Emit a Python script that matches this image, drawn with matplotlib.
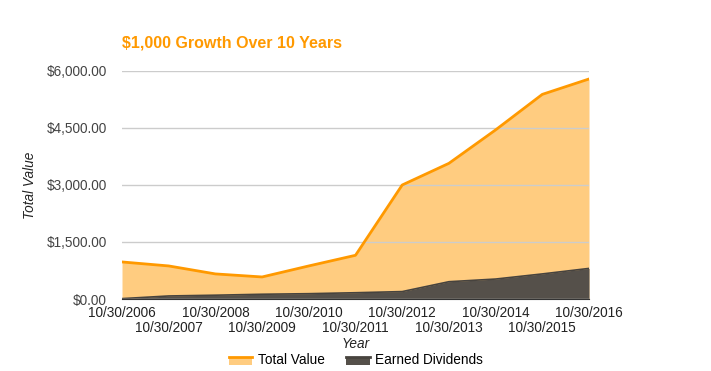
import matplotlib.pyplot as plt
import numpy as np
from matplotlib.patches import Patch, Rectangle
from matplotlib.lines import Line2D
from matplotlib.ticker import FuncFormatter

plt.rcParams['font.family'] = ['Liberation Sans', 'DejaVu Sans']

# data
dates = ['10/30/2006', '10/30/2007', '10/30/2008', '10/30/2009', '10/30/2010',
         '10/30/2011', '10/30/2012', '10/30/2013', '10/30/2014', '10/30/2015',
         '10/30/2016']
total_value = [975, 870, 660, 580, 870, 1150, 3000, 3570, 4450, 5385, 5790]
dividends = [10, 80, 100, 125, 140, 165, 195, 455, 525, 660, 805]
yticks = [0, 1500, 3000, 4500, 6000]

orange = '#FF9900'
orange_fill = '#FFCC80'
dark = '#55504A'
dark_line = '#47433E'


class AreaHandler:
    # filled box with a line along its top edge, like the area legend keys
    def __init__(self, fill, line):
        self.fill = fill
        self.line = line

    def legend_artist(self, legend, orig_handle, fontsize, handlebox):
        x0, y0 = handlebox.xdescent, handlebox.ydescent
        w, h = handlebox.width, handlebox.height
        r = Rectangle((x0, y0), w, h, facecolor=self.fill, lw=0,
                      transform=handlebox.get_transform())
        l = Line2D([x0, x0 + w], [y0 + h, y0 + h], color=self.line, lw=2,
                   transform=handlebox.get_transform())
        handlebox.add_artist(r)
        handlebox.add_artist(l)
        return r


fig = plt.figure(figsize=(7.11, 3.71), dpi=100)
ax = fig.add_axes([122/711, 1 - 299/371, (589-122)/711, (299-71)/371])

x = np.arange(len(dates))
ax.fill_between(x, 0, total_value, color=orange_fill, lw=0, zorder=1)
ax.plot(x, total_value, color=orange, lw=2, zorder=3)
ax.fill_between(x, 0, dividends, color=dark, lw=0, zorder=2)
ax.plot(x, dividends, color=dark_line, lw=1.2, zorder=2)

ax.set_xlim(0, len(dates) - 1)
ax.set_ylim(0, 6000)
ax.set_yticks(yticks)
ax.yaxis.set_major_formatter(FuncFormatter(lambda v, p: '${:,.2f}'.format(v)))
ax.grid(axis='y', color='#CCCCCC', lw=1, zorder=0)
ax.set_axisbelow(False)
for s in ['top', 'right', 'left']:
    ax.spines[s].set_visible(False)
ax.spines['bottom'].set_color('#333333')
ax.spines['bottom'].set_zorder(5)

# alternating two rows of date labels
ax.set_xticks(x[::2])
ax.set_xticklabels(dates[::2])
ax.set_xticks(x[1::2], minor=True)
ax.set_xticklabels(dates[1::2], minor=True)
ax.tick_params(axis='x', which='major', length=0, pad=5, labelsize=9.8, labelcolor='#222222')
ax.tick_params(axis='x', which='minor', length=0, pad=16, labelsize=9.8, labelcolor='#222222')
ax.tick_params(axis='y', length=0, pad=11, labelsize=9.8, labelcolor='#444444')

ax.set_xlabel('Year', style='italic', fontsize=9.8, color='#222222', labelpad=1)
ax.set_ylabel('Total Value', style='italic', fontsize=9.8, color='#222222', labelpad=7)

fig.text(122/711, 1 - 43/371, '$1,000 Growth Over 10 Years', color=orange,
         fontsize=11.5, fontweight='bold', va='center', ha='left')

h1 = Patch(facecolor=orange_fill)
h2 = Patch(facecolor=dark)
leg = fig.legend([h1, h2], ['Total Value', 'Earned Dividends'], loc='center',
                 bbox_to_anchor=(356/711, 1 - 360/371), ncol=2, frameon=False,
                 fontsize=9.8, handlelength=1.7, handleheight=0.55, columnspacing=1.6,
                 handletextpad=0.4,
                 handler_map={h1: AreaHandler(orange_fill, orange),
                              h2: AreaHandler(dark, dark_line)})

fig.savefig('out.png', dpi=100)
